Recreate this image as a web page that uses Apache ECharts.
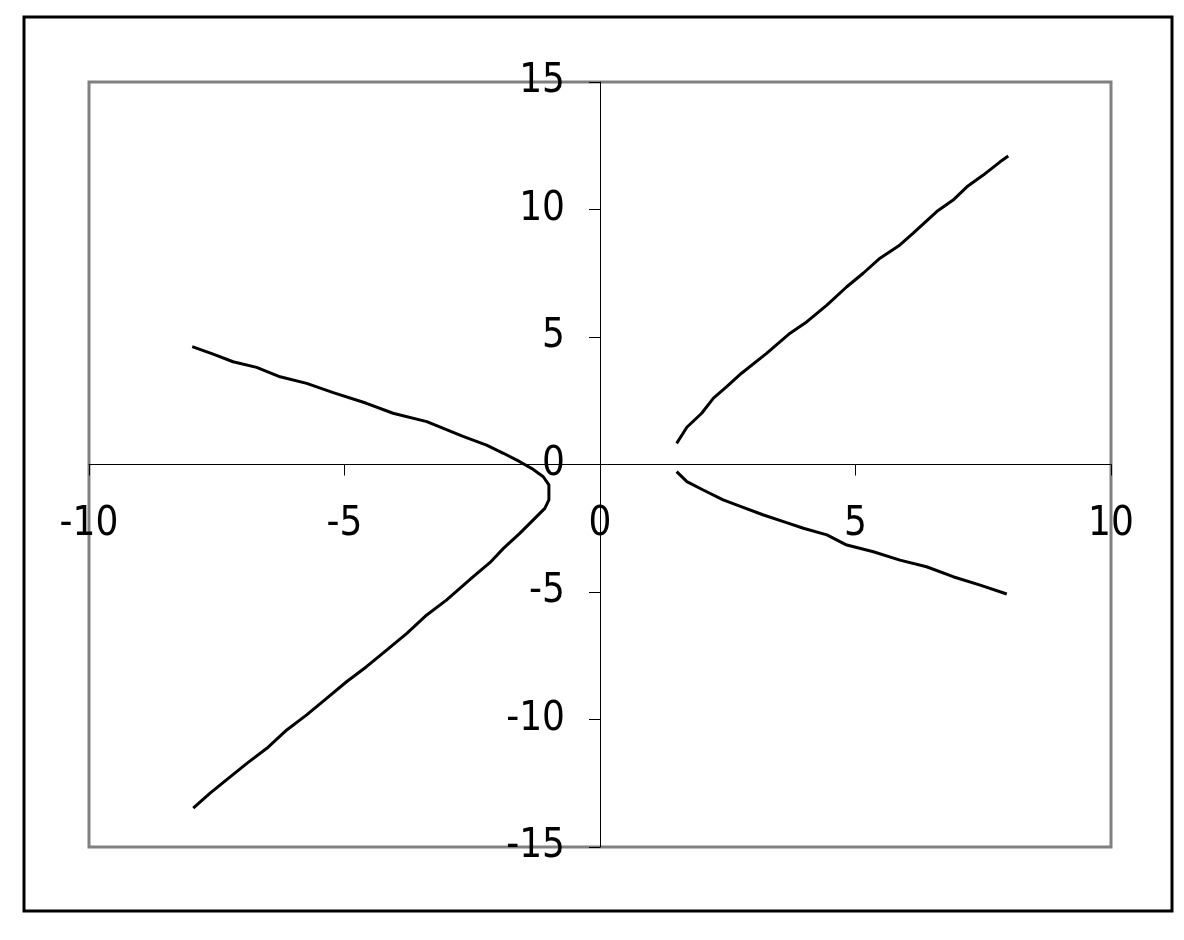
<!DOCTYPE html>
<html><head><meta charset="utf-8">
<script src="https://cdn.jsdelivr.net/npm/echarts@6/dist/echarts.min.js"></script>
<style>html,body{margin:0;padding:0;background:#fff}#c{width:1184px;height:940px}</style>
</head><body><div id="c"></div>
<script>
// Axis ranges / ticks
const xRange = [-10, 10], xStep = 5;
const yRange = [-15, 15], yStep = 5;

// Left branch (one continuous curve through the vertex)
const leftX = [-7.98,-7.57,-7.18,-6.72,-6.26,-5.74,-5.22,-4.57,-4.05,-3.39,-2.68,-2.22,-1.89,-1.57,-1.34,-1.11,-1.00,-1.00,-1.08,-1.31,-1.57,-1.89,-2.15,-2.48,-3.00,-3.39,-3.78,-4.17,-4.57,-4.96,-5.35,-5.74,-6.13,-6.52,-6.91,-7.31,-7.63,-7.96];
const leftY = [4.62,4.33,4.03,3.81,3.44,3.18,2.82,2.40,2.01,1.68,1.10,0.76,0.44,0.11,-0.15,-0.48,-0.80,-1.39,-1.72,-2.18,-2.70,-3.29,-3.84,-4.40,-5.31,-5.90,-6.62,-7.27,-7.93,-8.52,-9.17,-9.82,-10.41,-11.13,-11.72,-12.37,-12.89,-13.48];

// Right upper branch
const rightUpX = [1.50,1.70,1.99,2.22,2.48,2.77,3.26,3.72,4.05,4.44,4.83,5.15,5.48,5.87,6.13,6.59,6.91,7.18,7.50,7.83,7.99];
const rightUpY = [0.83,1.46,2.01,2.60,3.05,3.58,4.36,5.15,5.60,6.25,6.97,7.50,8.09,8.61,9.07,9.92,10.37,10.89,11.35,11.87,12.10];

// Right lower branch
const rightLoX = [1.50,1.70,2.02,2.41,2.80,3.20,3.65,3.98,4.44,4.83,5.35,5.87,6.39,6.91,7.44,7.96];
const rightLoY = [-0.28,-0.67,-1.00,-1.39,-1.68,-1.98,-2.28,-2.50,-2.76,-3.16,-3.42,-3.75,-4.01,-4.40,-4.73,-5.08];

const zip = (xs, ys) => xs.map((x, i) => [x, ys[i]]);
const FONT = "'Liberation Sans Narrow', 'DejaVu Sans Condensed', sans-serif";

const W = 1184, H = 940;
const G = { left: 89, right: 73, top: 82, bottom: 93 };
const gridW = W - G.left - G.right, gridH = H - G.top - G.bottom;
// place axes where the other axis is zero
const xAxisOffset = -gridH * (0 - yRange[0]) / (yRange[1] - yRange[0]);
const yAxisOffset = -gridW * (0 - xRange[0]) / (xRange[1] - xRange[0]);

const lineSeries = (name, data) => ({
  name, type: 'line', data, showSymbol: false, smooth: false,
  lineStyle: { color: '#000', width: 3 }, animation: false
});

const chart = echarts.init(document.getElementById('c'), null, { renderer: 'canvas' });
chart.setOption({
  backgroundColor: '#fff',
  animation: false,
  graphic: [{
    type: 'rect', silent: true,
    shape: { x: 24, y: 17, width: 1148, height: 894 },
    style: { fill: 'none', stroke: '#000', lineWidth: 3 }
  }],
  grid: {
    left: G.left, right: G.right, top: G.top, bottom: G.bottom,
    containLabel: false, outerBoundsMode: 'none',
    show: true, borderColor: '#808080', borderWidth: 3, backgroundColor: 'transparent'
  },
  xAxis: {
    type: 'value', min: xRange[0], max: xRange[1], interval: xStep,
    position: 'bottom', offset: xAxisOffset,
    axisLine: { show: true, onZero: false, lineStyle: { color: '#000', width: 1 } },
    axisTick: { show: true, length: 11, lineStyle: { color: '#000', width: 1 } },
    splitLine: { show: false },
    axisLabel: { color: '#000', fontSize: 40, fontFamily: FONT, margin: 40 }
  },
  yAxis: {
    type: 'value', min: yRange[0], max: yRange[1], interval: yStep,
    position: 'left', offset: yAxisOffset,
    axisLine: { show: true, onZero: false, lineStyle: { color: '#000', width: 1 } },
    axisTick: { show: true, length: 11, lineStyle: { color: '#000', width: 1 } },
    splitLine: { show: false },
    axisLabel: { color: '#000', fontSize: 40, fontFamily: FONT, margin: 35 }
  },
  series: [
    lineSeries('left', zip(leftX, leftY)),
    lineSeries('rightUpper', zip(rightUpX, rightUpY)),
    lineSeries('rightLower', zip(rightLoX, rightLoY))
  ]
});
</script>
</body></html>
